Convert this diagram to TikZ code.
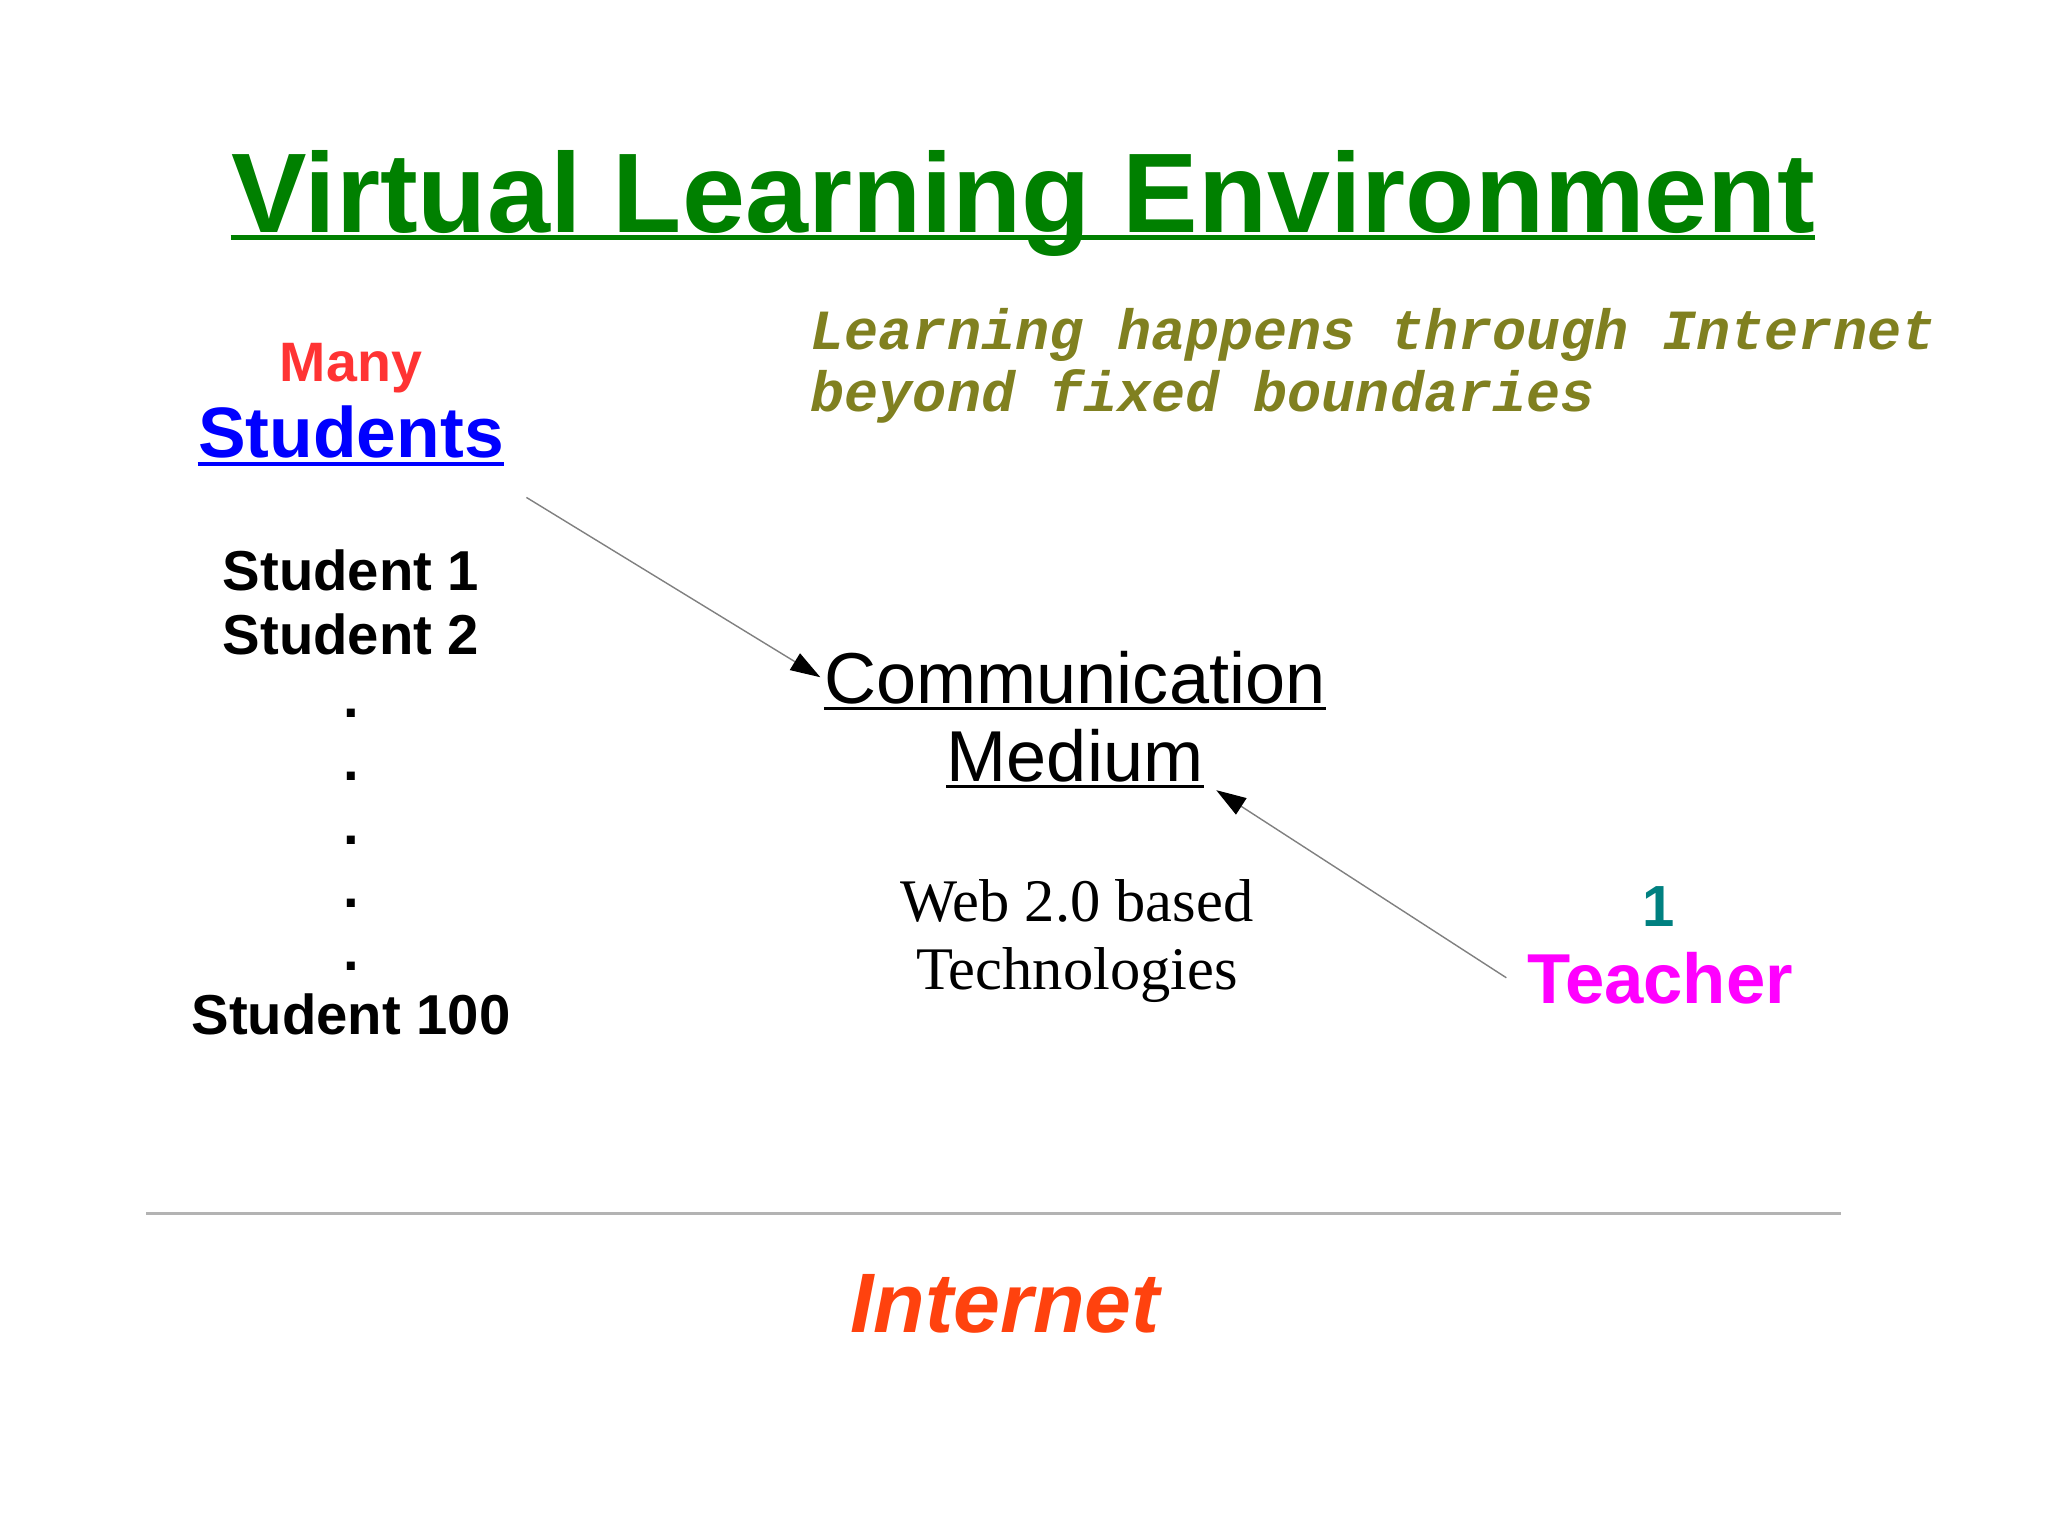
\documentclass[tikz,border=0pt]{standalone}
\usepackage{fontspec}
\setmainfont{Liberation Sans}
\newfontfamily\serifface{Liberation Serif}
\newfontfamily\monoface{Liberation Mono}
\usetikzlibrary{arrows.meta,positioning}
\definecolor{titlegreen}{HTML}{008000}
\definecolor{noteolive}{HTML}{808020}
\definecolor{manyred}{HTML}{FF3333}
\definecolor{studblue}{HTML}{0000FF}
\definecolor{oneteal}{HTML}{008080}
\definecolor{teachmag}{HTML}{FF00FF}
\definecolor{netorange}{HTML}{FF420E}
\definecolor{rulegray}{HTML}{B3B3B3}
\tikzset{
	txt/.style={inner sep=0pt, anchor=base},
	diredge/.style={-{Triangle[length=8.5pt,width=5.5pt,color=black]}, draw=gray, line width=0.4pt}
}
\begin{document}
\begin{tikzpicture}[x=0.01cm,y=-0.01cm]
\useasboundingbox (0,0) rectangle (2048,1535);

%%%% heading
\node[txt,text=titlegreen,font=\fontsize{32.2}{38}\selectfont\bfseries] (title) at (1023,232) {Virtual Learning Environment};
\draw[titlegreen,line width=1.4pt] ([yshift=-1.6pt]title.base west) -- ([yshift=-1.6pt]title.base east);

% multi-line nodes: base = last line
\node[txt,anchor=base west,align=left,text=noteolive,font=\monoface\bfseries\itshape\fontsize{16.15}{17.4}\selectfont] (note) at (810,411) {Learning happens through Internet\\beyond fixed boundaries};

%%%% students
\node[txt,text=manyred,font=\fontsize{15.8}{18}\selectfont\bfseries] (many) at (351,381) {Many};
\node[txt,text=studblue,font=\fontsize{20.3}{24}\selectfont\bfseries] (students) at (351,457) {Students};
\draw[studblue,line width=1.1pt] ([yshift=-2pt]students.base west) -- ([yshift=-2pt]students.base east);
\node[txt,align=center,font=\fontsize{16}{18}\selectfont\bfseries] (list) at (351,1034) {Student 1\\Student 2\\.\\.\\.\\.\\.\\Student 100};

%%%% medium
\node[txt,font=\fontsize{20.5}{24}\selectfont] (comm) at (1075,703) {Communication};
\node[txt,font=\fontsize{20.5}{24}\selectfont] (medium) at (1075,781) {Medium};
\draw[line width=0.85pt] ([yshift=-1.5pt]comm.base west) -- ([yshift=-1.5pt]comm.base east);
\draw[line width=0.85pt] ([yshift=-1.5pt]medium.base west) -- ([yshift=-1.5pt]medium.base east);
\node[txt,align=center,font=\serifface\fontsize{17.2}{19.3}\selectfont] (web) at (1077,989) {Web 2.0 based\\Technologies};

%%%% teacher
\node[txt,text=oneteal,font=\fontsize{16.5}{18}\selectfont\bfseries] (one) at (1659,926) {1};
\node[txt,text=teachmag,font=\fontsize{20.1}{24}\selectfont\bfseries] (teacher) at (1660,1003) {Teacher};

\coordinate (s0) at ([shift={(22,39)}]students.south east);
\coordinate (t0) at ([xshift=-5.7pt]teacher.west);
\draw[diredge] (s0) -- ([xshift=-1pt]comm.west);
\draw[diredge] (t0) -- ([xshift=3.5pt,yshift=-2.2pt]medium.south east);

%%%% internet
\draw[rulegray,line width=0.85pt] (146,1213) -- (1841,1213);
\node[txt,text=netorange,font=\fontsize{24}{28}\selectfont\bfseries\itshape] (net) at (1005,1332) {Internet};
\end{tikzpicture}
\end{document}
